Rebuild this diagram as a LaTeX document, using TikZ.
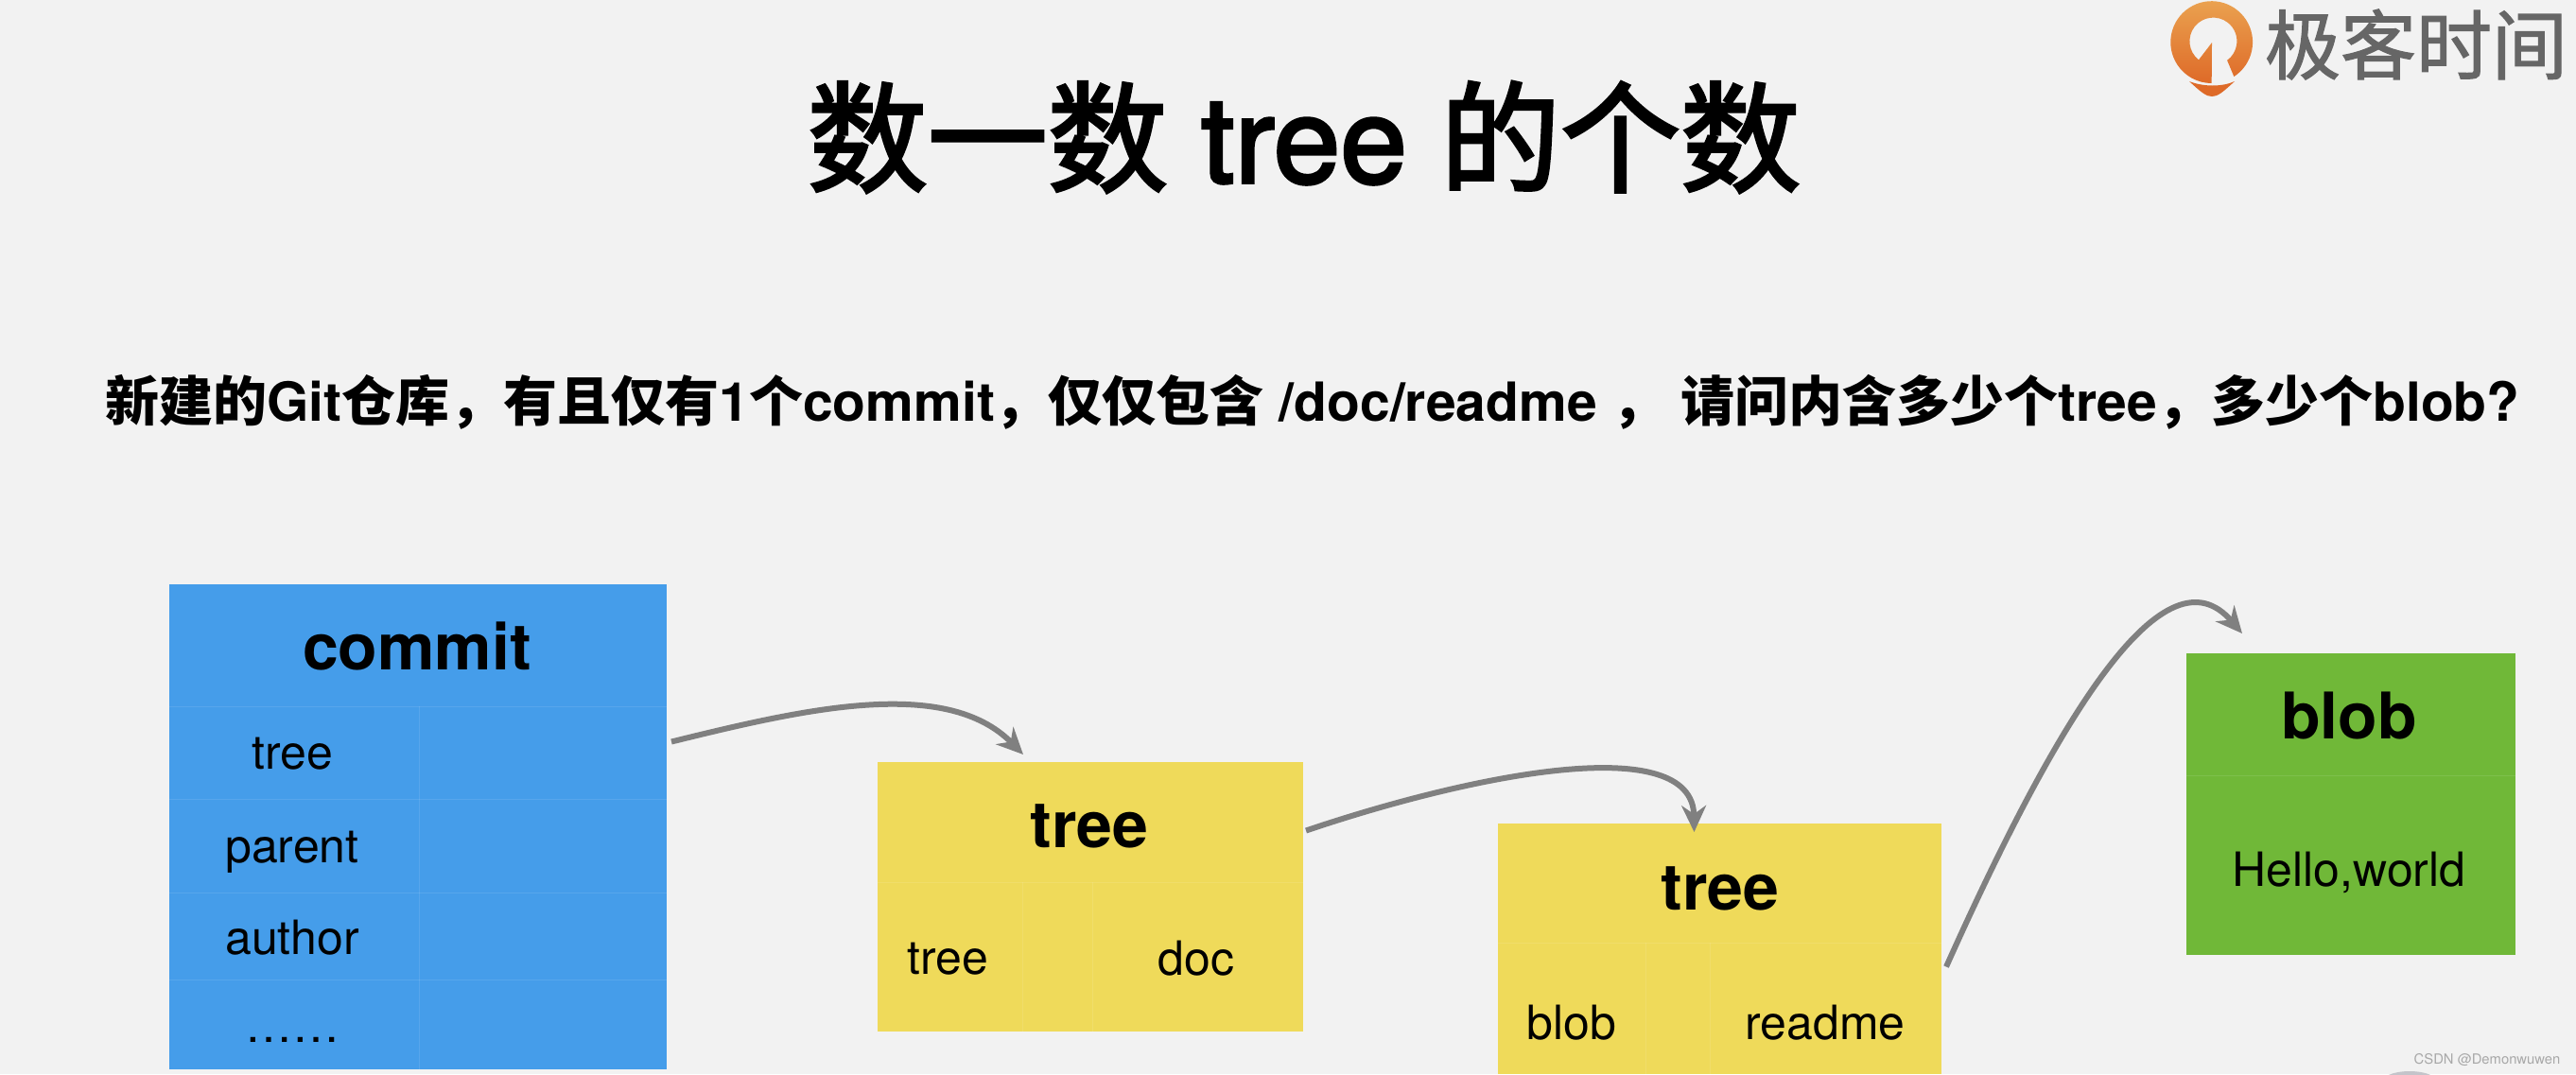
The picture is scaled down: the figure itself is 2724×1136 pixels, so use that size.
\documentclass[tikz,border=0pt]{standalone}
\usepackage{fontspec}
\usepackage{xcolor}
\usepackage{tikz}
\usetikzlibrary{arrows.meta}
\setmainfont{TeX Gyre Heros}
\newfontfamily\cjk{Noto Sans CJK SC}
\newfontfamily\cjkmid[FakeBold=2.5]{Noto Sans CJK SC}
\newfontfamily\latinmid[FakeBold=2.5]{TeX Gyre Heros}
\newfontfamily\cjklogo[FakeBold=1.5]{Noto Sans CJK SC}
\definecolor{slidebg}{HTML}{F2F2F2}
\definecolor{commitblue}{HTML}{459DEA}
\definecolor{treeyellow}{HTML}{EFDA5A}
\definecolor{blobgreen}{HTML}{70B838}
\definecolor{arrowgray}{HTML}{808080}
\definecolor{logogray}{HTML}{666666}
\definecolor{logotop}{HTML}{EBA552}
\definecolor{logobottom}{HTML}{DE6A28}
\definecolor{markgray}{HTML}{A8A8A8}
\definecolor{cornergray}{HTML}{C4C4CA}

\begin{document}
\begin{tikzpicture}[x=0.5pt, y=-0.5pt]

\tikzstyle{box}=[anchor=north west, inner sep=0, outer sep=0]
\tikzstyle{heading}=[font=\fontsize{34}{40}\selectfont\bfseries, text=black]
\tikzstyle{cell}=[font=\fontsize{25}{30}\selectfont, text=black]
\tikzstyle{cellline}=[white, opacity=0.1, line width=0.5pt]
\tikzstyle{flow}=[->, >={Stealth[length=14pt, width=13pt]}, arrowgray, line width=3pt]

\fill[slidebg] (0,0) rectangle (2724,1136);
\useasboundingbox (0,0) rectangle (2724,1136);

% logo %
\shade[top color=logotop, bottom color=logobottom] (2362.3,81) arc[start angle=-57, end angle=270, radius=21.7pt]
  -- (2339,45) -- (2325,63.3) arc[start angle=232, end angle=-54, radius=12.5pt] -- cycle;
\fill[logobottom] (2315,86) .. controls (2330,92) and (2350,92) .. (2363,86) .. controls (2350,98) and (2345,102) .. (2339,102) .. controls (2333,102) and (2328,98) .. (2315,86) -- cycle;
\node[text=logogray, font=\fontsize{40}{42}\cjklogo] (logotext) at (2555,47) {极客时间};

% titles %
\node[font=\fontsize{63.5}{70}\selectfont] (title) at (1379,145) {{\cjkmid 数一数} {\latinmid tree} {\cjkmid 的个数}};
\node[font=\fontsize{28.5}{32}\selectfont\bfseries] (question) at (1388,425)
  {{\cjk 新建的}Git{\cjk 仓库，有且仅有}1{\cjk 个}commit{\cjk ，仅仅包含} /doc/readme {\cjk ，} {\cjk 请问内含多少个}tree{\cjk ，多少个}blob?};

% boxes %
\node[box, fill=commitblue, minimum width=263pt, minimum height=256.5pt] (commit) at (179,618) {};
\node[box, fill=treeyellow, minimum width=225pt, minimum height=142.5pt] (treeone) at (928,806) {};
\node[box, fill=treeyellow, minimum width=234.5pt, minimum height=132.5pt] (treetwo) at (1584,871) {};
\node[box, fill=blobgreen, minimum width=174pt, minimum height=159.5pt] (blob) at (2312,691) {};

% cell lines %
\foreach \y in {747,845,944,1036}
  \draw[cellline] (commit.west |- 0,\y) -- (commit.east |- 0,\y);
\draw[cellline] (443,747) -- (commit.south -| 443,0);
\draw[cellline] (treeone.west |- 0,933) -- (treeone.east |- 0,933);
\draw[cellline] (1081,933) -- (treeone.south -| 1081,0);
\draw[cellline] (1155,933) -- (treeone.south -| 1155,0);
\draw[cellline] (treetwo.west |- 0,997) -- (treetwo.east |- 0,997);
\draw[cellline] (1740,997) -- (treetwo.south -| 1740,0);
\draw[cellline] (1808,997) -- (treetwo.south -| 1808,0);
\draw[cellline] (blob.west |- 0,820) -- (blob.east |- 0,820);

% labels %
\node[heading] (commithead) at (441,683) {commit};
\node[cell] (committree) at (309,797) {tree};
\node[cell] (commitparent) at (309,901) {parent};
\node[cell] (commitauthor) at (309,992) {author};
\node[cell] (commitdots) at (309,1100) {……};

\node[heading] (treeonehead) at (1152,874) {tree};
\node[cell] (treeoneleft) at (1002,1014) {tree};
\node[cell] (treeoneright) at (1265,1014) {doc};

\node[heading] (treetwohead) at (1819,940) {tree};
\node[cell] (treetwoleft) at (1662,1082) {blob};
\node[cell] (treetworight) at (1930,1082) {readme};

\node[heading] (blobhead) at (2484,757) {blob};
\node[cell] (blobtext) at (2484,923) {Hello,world};

\node[text=markgray, font=\fontsize{7.4}{9}\selectfont] (mark) at (2630,1121) {CSDN @Demonwuwen};
\fill[cornergray] (2548,1147) ellipse [x radius=32, y radius=14];

% edges %
\draw[flow] ([shift={(5,-90)}]commit.east) .. controls (850,750) and (1000,715) .. ([shift={(-71,-8)}]treeone.north);
\draw[flow] ([shift={(3,-70)}]treeone.east) .. controls (1560,818) and (1790,773) .. ([shift={(-27,9)}]treetwo.north);
\draw[flow] ([shift={(5,19)}]treetwo.east) .. controls (2180,750) and (2290,576) .. ([shift={(-115,-21)}]blob.north);

\end{tikzpicture}
\end{document}
